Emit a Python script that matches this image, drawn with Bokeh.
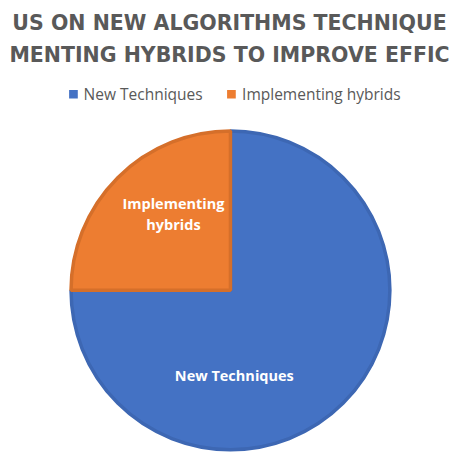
import numpy as np
from bokeh.plotting import figure
from bokeh.models import Range1d
from bokeh.core.properties import value
from bokeh.embed import file_html
from bokeh.resources import INLINE

# ---- data ----
categories = ["New Techniques", "Implementing hybrids"]
values = [75, 25]
fill_colors = ["#4472C4", "#ED7D31"]
edge_colors = ["#3D67B3", "#D56F2A"]
title_lines = ["US ON NEW ALGORITHMS TECHNIQUE", "MENTING HYBRIDS TO IMPROVE EFFIC"]

W = H = 458
S = W / 474.0  # reference -> figure scale


def px(xr, yr):
    """reference pixel -> data coordinates"""
    return xr * S, H - yr * S


def fs(size):
    return f"{size * S:.1f}px"


p = figure(width=W, height=H, output_backend="svg", toolbar_location=None,
           x_range=Range1d(0, W), y_range=Range1d(0, H), min_border=0)
p.axis.visible = False
p.grid.visible = False
p.outline_line_color = None
p.background_fill_color = "white"

# ---- pie ----
vals = np.array(values, dtype=float)
frac = vals / vals.sum()
cum = np.concatenate([[0.0], np.cumsum(frac)])
start = np.pi / 2 - 2 * np.pi * cum[:-1]
end = np.pi / 2 - 2 * np.pi * cum[1:]
cx, cy = px(238, 300)
R = 165 * S
p.wedge(x=[cx] * len(vals), y=[cy] * len(vals), radius=R,
        start_angle=start, end_angle=end, direction="clock",
        fill_color=fill_colors, line_color=edge_colors, line_width=3.5)

# ---- data labels ----
lab_font = value("Open Sans")
x1, y1 = px(242, 388)
p.text(x=[x1], y=[y1], text=[categories[0]], text_color="white",
       text_font=lab_font, text_font_style="bold", text_font_size=fs(15),
       text_align="center", text_baseline="middle")
x2, y2 = px(179, 221)
p.text(x=[x2], y=[y2], text=[categories[1].replace(" ", "\n")], text_color="white",
       text_font=lab_font, text_font_style="bold", text_font_size=fs(15),
       text_align="center", text_baseline="middle", text_line_height=1.1)

# ---- title ----
tx, ty1 = px(237, 23)
_, ty2 = px(237, 56)
p.text(x=[tx, tx], y=[ty1, ty2], text=title_lines, text_color="#595959",
       text_font=value("DejaVu Sans"), text_font_style="bold", text_font_size="20.5px",
       text_align="center", text_baseline="alphabetic")

# ---- legend ----
leg_sq_x = [75.5, 239]
leg_tx = [86, 250]
ly = 97
for i, c in enumerate(categories):
    sx, sy = px(leg_sq_x[i], ly)
    p.rect(x=[sx], y=[sy], width=9 * S, height=9 * S, width_units="screen",
           height_units="screen", fill_color=fill_colors[i], line_color=None)
    lx, _ = px(leg_tx[i], ly)
    p.text(x=[lx], y=[sy], text=[c], text_color="#595959", text_font=lab_font,
           text_font_size=fs(16), text_align="left", text_baseline="middle")

open("out.html", "w").write(file_html(p, INLINE))
